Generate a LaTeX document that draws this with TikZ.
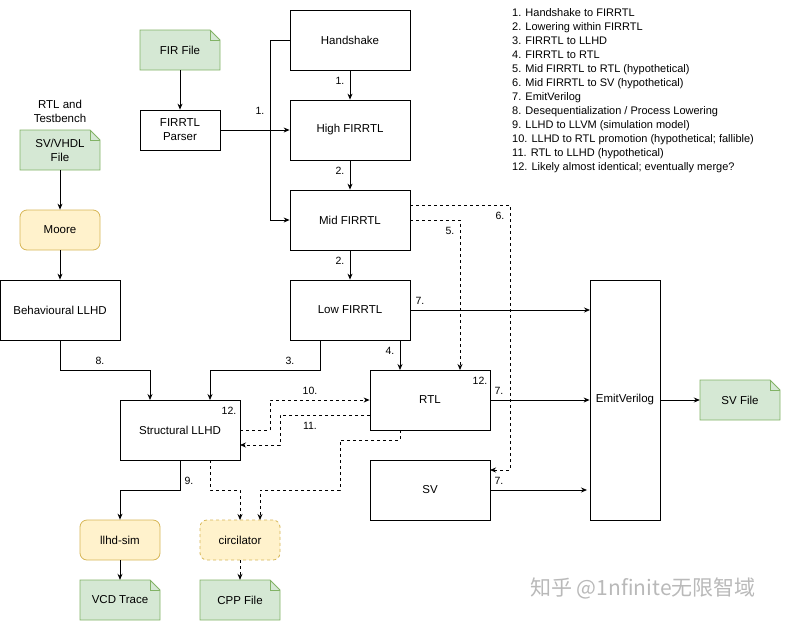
\documentclass[tikz,border=0pt]{standalone}
\usepackage{fontspec}
\setmainfont{Liberation Sans}
\newfontfamily\cjk{Noto Sans CJK SC}
\usetikzlibrary{arrows.meta}
\definecolor{gf}{HTML}{D5E8D4}\definecolor{gs}{HTML}{82B366}
\definecolor{yf}{HTML}{FFF2CC}\definecolor{ys}{HTML}{D6B656}
\begin{document}
\begin{tikzpicture}[x=1pt,y=-1pt,font=\fontsize{11.5}{14}\selectfont,
 box/.style={draw,thick,minimum width=120pt,minimum height=60pt,inner sep=0pt,align=center},
 sbox/.style={draw,thick,minimum width=80pt,minimum height=40pt,inner sep=0pt,align=center},
 ybox/.style={sbox,draw=ys,fill=yf,rounded corners=7pt},
 note/.style={minimum width=80pt,minimum height=40pt,inner sep=0pt,align=center},
 arr/.style={thick,-{Stealth[length=6pt,width=5pt]}},
 dar/.style={arr,dashed},
 lab/.style={inner sep=0pt,font=\fontsize{10.5}{12}\selectfont}]
\useasboundingbox (0,0) rectangle (791,621);
\newcommand\mynote[4]{%
 \draw[thick,draw=gs,fill=gf] (#2-40,#3-20) -- (#2+30,#3-20) -- (#2+40,#3-10) -- (#2+40,#3+20) -- (#2-40,#3+20) -- cycle;
 \draw[thick,draw=gs] (#2+30,#3-20) -- (#2+30,#3-10) -- (#2+40,#3-10);
 \node[note] (#1) at (#2,#3) {#4};}
\node[box] (hs) at (350,40) {Handshake};
\node[box] (hi) at (350,130) {High FIRRTL};
\node[box] (mid) at (350,220) {Mid FIRRTL};
\node[box] (low) at (350,310) {Low FIRRTL};
\mynote{fir}{180}{50}{FIR File}
\node[sbox] (par) at (180,130) {FIRRTL\\Parser};
\node[align=center,inner sep=0pt] (rtlt) at (60,111) {RTL and\\Testbench};
\mynote{svv}{60}{150}{SV/VHDL\\File}
\node[ybox] (moore) at (60,230) {Moore};
\node[box] (beh) at (60,310) {Behavioural LLHD};
\node[box] (str) at (180,430) {Structural LLHD};
\node[box] (rtl) at (430,400) {RTL};
\node[box] (sv) at (430,490) {SV};
\node[draw,thick,minimum width=70pt,minimum height=240pt,inner sep=0pt] (emit) at (625,400) {EmitVerilog};
\mynote{svf}{740}{400}{SV File}
\node[ybox] (sim) at (120,540) {llhd-sim};
\node[ybox,dashed] (circ) at (240,540) {circilator};
\mynote{vcd}{120}{600}{VCD Trace}
\mynote{cpp}{240}{600}{CPP File}
\coordinate (emittop) at (590,310);
% connectors
\draw[arr] (fir) -- (par);
\draw[arr] (par) -- (hi);
\draw[arr] (hs.west) -- (270,40) -- (270,220) -- (mid.west);
\draw[arr] (hs) -- (hi);
\draw[arr] (hi) -- (mid);
\draw[arr] (mid) -- (low);
\draw[dar] (410,205) -- (510,205) -- (510,470) -- (490,470);
\draw[dar] (410,220) -- (460,220) -- (460,370);
\draw[arr] (low.east) -- (emittop);
\draw[arr] (400,340) -- (400,370);
\draw[arr] (320,340) -- (320,370) -- (210,370) -- (210,400);
\draw[arr] (beh.south) -- (60,370) -- (150,370) -- (150,400);
\draw[dar] (240,430) -- (270,430) -- (270,400) -- (rtl.west);
\draw[dar] (370,415) -- (280,415) -- (280,445) -- (240,445);
\draw[dar] (400,430) -- (400,440) -- (340,440) -- (340,490) -- (260,490) -- (260,520);
\draw[dar] (210,460) -- (210,490) -- (240,490) -- (240,520);
\draw[arr] (180,460) -- (180,490) -- (120,490) -- (sim.north);
\draw[arr] (sim) -- (vcd);
\draw[dar] (circ) -- (cpp);
\draw[arr] (rtl.east) -- (emit.west);
\draw[arr] (sv.east) -- (587,490);
\draw[arr] (svv) -- (moore);
\draw[arr] (moore) -- (beh);
\draw[arr] (emit.east) -- (svf.west);
% labels
\node[lab] at (260,111) {1.};
\node[lab] at (340,81) {1.};
\node[lab] at (340,171) {2.};
\node[lab] at (340,261) {2.};
\node[lab] at (500,216) {6.};
\node[lab] at (450,231) {5.};
\node[lab] at (420,301) {7.};
\node[lab] at (390,351) {4.};
\node[lab] at (290,361) {3.};
\node[lab] at (100,361) {8.};
\node[lab] at (310,391) {10.};
\node[lab] at (310,426) {11.};
\node[lab] at (189,481) {9.};
\node[lab] at (480,381) {12.};
\node[lab] at (229,411) {12.};
\node[lab] at (499,391) {7.};
\node[lab] at (499,481) {7.};
\node[anchor=north west,align=left,inner sep=0pt,font=\fontsize{11}{14}\selectfont] at (512,8) {1. Handshake to FIRRTL\\2. Lowering within FIRRTL\\3. FIRRTL to LLHD\\4. FIRRTL to RTL\\5. Mid FIRRTL to RTL (hypothetical)\\6. Mid FIRRTL to SV (hypothetical)\\7. EmitVerilog\\8. Desequentialization / Process Lowering\\9. LLHD to LLVM (simulation model)\\10. LLHD to RTL promotion (hypothetical; fallible)\\11. RTL to LLHD (hypothetical)\\12. Likely almost identical; eventually merge?};
\node[text=gray!55,font=\cjk\fontsize{21}{24}\selectfont,inner sep=0pt] at (643,588) {知乎 @1nfinite无限智域};
\end{tikzpicture}
\end{document}
